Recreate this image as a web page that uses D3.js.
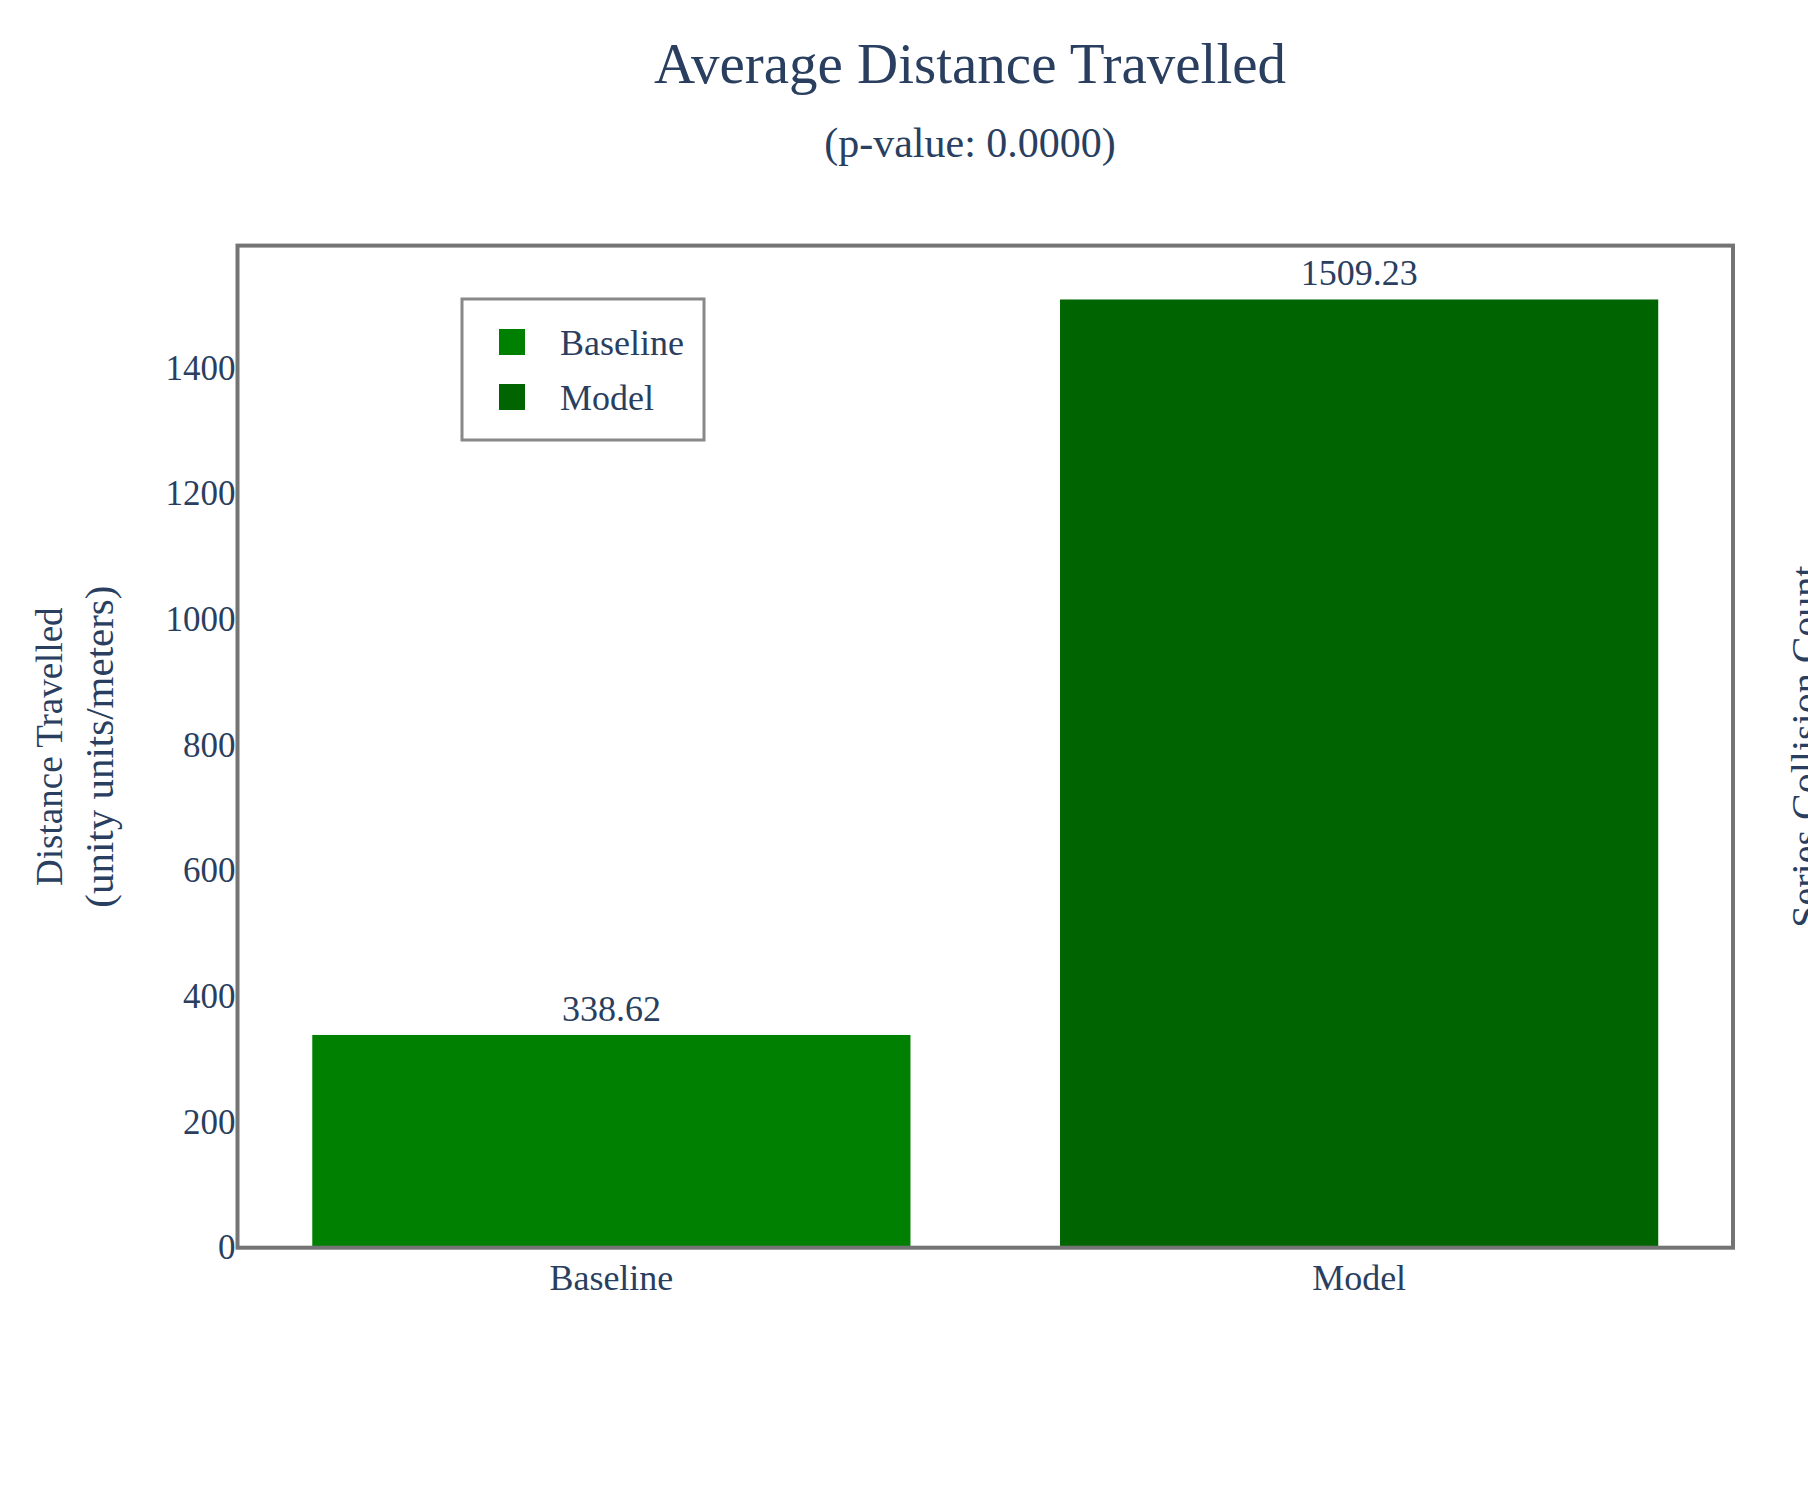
<!DOCTYPE html>
<html>
<head>
<meta charset="utf-8">
<script src="https://cdn.jsdelivr.net/npm/d3@7"></script>
<style>
  html, body { margin: 0; padding: 0; background: #fff; }
  svg { display: block; }
</style>
</head>
<body>
<div id="chart"></div>
<script>
// ---- data ----
const categories = ["Baseline", "Model"];
const values = [338.62, 1509.23];
const valueLabels = ["338.62", "1509.23"];
const barColors = ["#008000", "#006400"];
const yTicks = [0, 200, 400, 600, 800, 1000, 1200, 1400];
const titleText = "Average Distance Travelled";
const subtitleText = "(p-value: 0.0000)";
const yTitleLines = ["Distance Travelled", "(unity units/meters)"];
const y2TitleText = "Series Collision Count";

// ---- layout ----
const W = 1808, H = 1488;
const X0 = 237.5, X1 = 1733, Y0 = 245.6, Y1 = 1247.7;
const textColor = "#2a3f5f";
const font = "'Liberation Serif', 'Times New Roman', serif";

const svg = d3.select("#chart").append("svg")
  .attr("width", W).attr("height", H)
  .style("font-family", font);

const x = d3.scaleBand().domain(categories).range([X0, X1])
  .paddingInner(0.2).paddingOuter(0.1);
const y = d3.scaleLinear().domain([0, 1595]).range([Y1, Y0]);

// bars
svg.append("g").selectAll("rect").data(categories).join("rect")
  .attr("x", d => x(d))
  .attr("width", x.bandwidth())
  .attr("y", (d, i) => y(values[i]))
  .attr("height", (d, i) => y(0) - y(values[i]))
  .attr("fill", (d, i) => barColors[i]);

// value labels
svg.append("g").selectAll("text").data(categories).join("text")
  .attr("x", d => x(d) + x.bandwidth() / 2)
  .attr("y", (d, i) => y(values[i]) - 14)
  .attr("text-anchor", "middle")
  .attr("fill", textColor)
  .attr("font-size", 36)
  .text((d, i) => valueLabels[i]);

// frame
svg.append("rect")
  .attr("x", X0).attr("y", Y0)
  .attr("width", X1 - X0).attr("height", Y1 - Y0)
  .attr("fill", "none")
  .attr("stroke", "#747474")
  .attr("stroke-width", 4);

// y axis (labels only)
const yAxis = d3.axisLeft(y).tickValues(yTicks).tickSize(0).tickPadding(0)
  .tickFormat(d3.format("d"));
const gy = svg.append("g").attr("transform", `translate(${X0 - 2},0)`).call(yAxis);
gy.select(".domain").remove();
gy.selectAll("text")
  .attr("fill", textColor)
  .attr("font-size", 35)
  .attr("font-family", font);

// x axis (labels only)
const xAxis = d3.axisBottom(x).tickSize(0).tickPadding(0);
const gx = svg.append("g").attr("transform", `translate(0,${Y1})`).call(xAxis);
gx.select(".domain").remove();
gx.selectAll("text")
  .attr("fill", textColor)
  .attr("font-size", 36)
  .attr("font-family", font)
  .attr("dy", null)
  .attr("y", 42);

// title
svg.append("text")
  .attr("x", 970).attr("y", 83)
  .attr("text-anchor", "middle")
  .attr("fill", textColor)
  .attr("font-size", 57)
  .text(titleText);
svg.append("text")
  .attr("x", 970).attr("y", 157)
  .attr("text-anchor", "middle")
  .attr("fill", textColor)
  .attr("font-size", 42)
  .text(subtitleText);

// y title
const cy = (Y0 + Y1) / 2;
const yTitleSizes = [37, 41];
yTitleLines.forEach((t, i) => {
  const bx = 62 + i * 51;
  svg.append("text")
    .attr("transform", `translate(${bx},${cy}) rotate(-90)`)
    .attr("text-anchor", "middle")
    .attr("fill", textColor)
    .attr("font-size", yTitleSizes[i])
    .text(t);
});

// secondary y title (clipped at right edge)
svg.append("text")
  .attr("transform", `translate(1819,${cy}) rotate(-90)`)
  .attr("text-anchor", "middle")
  .attr("fill", textColor)
  .attr("font-size", 40)
  .text(y2TitleText);

// legend
const lg = svg.append("g");
lg.append("rect")
  .attr("x", 462).attr("y", 299)
  .attr("width", 242).attr("height", 141)
  .attr("fill", "#fff")
  .attr("stroke", "#888")
  .attr("stroke-width", 3);
categories.forEach((c, i) => {
  const cyL = 342 + i * 55;
  lg.append("rect")
    .attr("x", 499).attr("y", cyL - 13)
    .attr("width", 26).attr("height", 26)
    .attr("fill", barColors[i]);
  lg.append("text")
    .attr("x", 560).attr("y", cyL + 1)
    .attr("dominant-baseline", "central")
    .attr("fill", textColor)
    .attr("font-size", 36)
    .text(c);
});
</script>
</body>
</html>
